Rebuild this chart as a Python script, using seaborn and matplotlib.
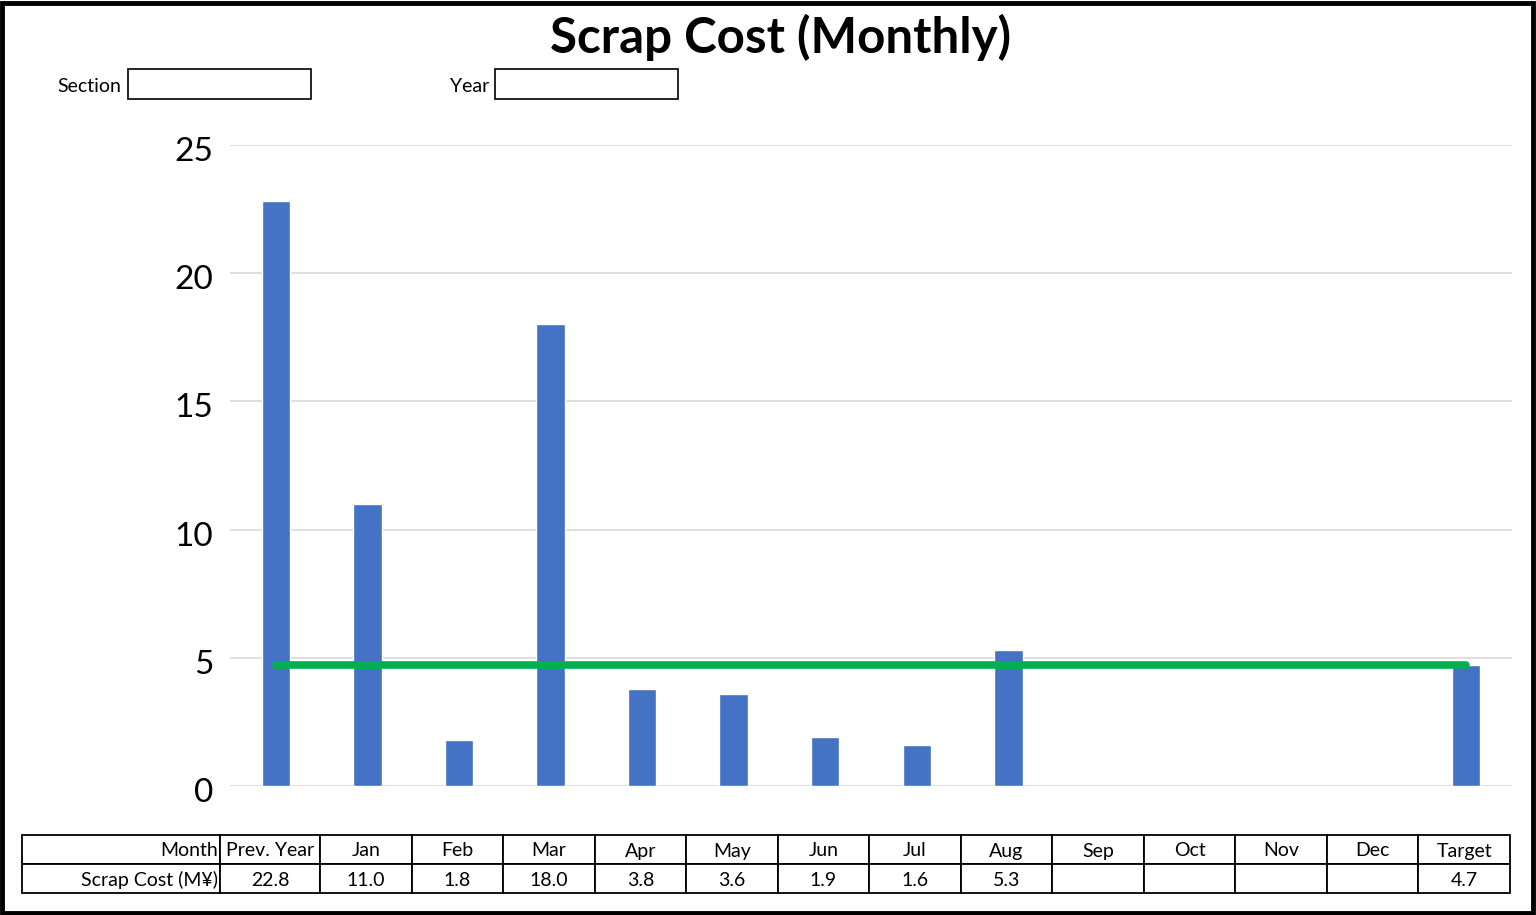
import numpy as np
import pandas as pd
import matplotlib.pyplot as plt
import matplotlib.transforms as mtrans
import seaborn as sns
from matplotlib.patches import Rectangle

months = ["Prev. Year", "Jan", "Feb", "Mar", "Apr", "May", "Jun",
          "Jul", "Aug", "Sep", "Oct", "Nov", "Dec", "Target"]
scrap_cost = [22.8, 11.0, 1.8, 18.0, 3.8, 3.6, 1.9, 1.6, 5.3,
              np.nan, np.nan, np.nan, np.nan, 4.7]
target = 4.7
yticks = [0, 5, 10, 15, 20, 25]

df = pd.DataFrame({"Month": months, "Cost": scrap_cost})

sns.set_theme(style="white")
plt.rcParams["font.family"] = ["Lato", "DejaVu Sans"]
plt.rcParams["text.color"] = "black"
plt.rcParams["ytick.color"] = "black"

fig = plt.figure(figsize=(15.36, 9.15), dpi=100)
ax = fig.add_axes([230 / 1536, 129 / 915, 1282 / 1536, 641 / 915])

sns.barplot(data=df, x="Month", y="Cost", color="#4472C4", width=0.31,
            saturation=1, ax=ax)

# target line from first to last category
ax.plot([0, len(months) - 1], [target, target], color="#00B050", lw=5.5,
        solid_capstyle="round", zorder=5)

ax.set_xlim(-0.5, len(months) - 0.5)
ax.set_ylim(0, 25)
ax.set_yticks(yticks)
ax.set_yticklabels([str(t) for t in yticks], fontsize=24)
ax.tick_params(axis="y", length=0, pad=12)
shift = mtrans.ScaledTranslation(0, -4 / 100, fig.dpi_scale_trans)
for lab in ax.get_yticklabels():
    lab.set_transform(lab.get_transform() + shift)
ax.set_xticks([])
ax.set_xlabel("")
ax.set_ylabel("")
ax.grid(axis="y", color="#d9d9d9", lw=1.2)
ax.set_axisbelow(True)
for s in ax.spines.values():
    s.set_visible(False)

fig.text(0.508, 1 - 37 / 915, "Scrap Cost (Monthly)", ha="center", va="center",
         fontsize=35.5, fontweight="bold")

# Section / Year input boxes
fig.text(121 / 1536, 1 - 86 / 915, "Section", ha="right", va="center", fontsize=14)
fig.text(489 / 1536, 1 - 86 / 915, "Year", ha="right", va="center", fontsize=14)
for x0 in [128, 495]:
    fig.patches.append(Rectangle((x0 / 1536, 1 - 99 / 915), 183 / 1536, 30 / 915,
                                 transform=fig.transFigure, fill=False,
                                 ec="black", lw=1.2))

# data table under the chart
tax = fig.add_axes([22 / 1536, 22 / 915, 1488 / 1536, 58 / 915])
tax.axis("off")
vals = ["" if np.isnan(v) else f"{v:.1f}" for v in scrap_cost]
cells = [["Month"] + months, ["Scrap Cost (M¥)"] + vals]
col_w = [198, 100] + [(1488 - 298) / (len(months) - 1)] * (len(months) - 1)
tbl = tax.table(cellText=cells, colWidths=[w / 1488 for w in col_w],
                bbox=[0, 0, 1, 1], cellLoc="center")
tbl.auto_set_font_size(False)
for (r, c), cell in tbl.get_celld().items():
    cell.set_edgecolor("black")
    cell.set_linewidth(1.3)
    cell.get_text().set_fontsize(14)
    cell.get_text().set_va("center_baseline")
    if c == 0:
        cell.get_text().set_ha("right")
        cell._loc = "right"
        cell.PAD = 0.01

# outer frame
fig.patches.append(Rectangle((0.001, 0.002), 0.997, 0.995, transform=fig.transFigure,
                             fill=False, ec="black", lw=3.5))

fig.savefig("out.png", dpi=100)
